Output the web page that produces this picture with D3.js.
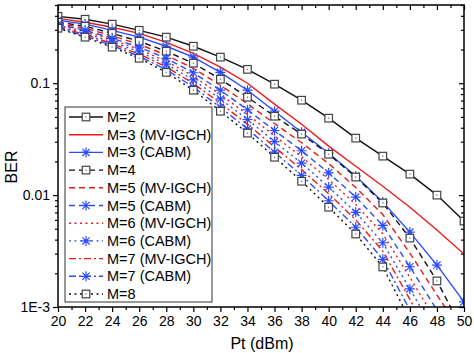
<!DOCTYPE html>
<html>
<head>
<meta charset="utf-8">
<script src="https://cdn.jsdelivr.net/npm/d3@7"></script>
<style>
    body { margin: 0; background: #fff; }
    svg { display: block; font-family: "Liberation Sans", Arial, sans-serif; }
</style>
</head>
<body>
<svg id="chart" width="474" height="353"></svg>
<script>
// transmit power (dBm)
const pt = [20, 22, 24, 26, 28, 30, 32, 34, 36, 38, 40, 42, 44, 46, 48, 50];

// BER
const berM2 = [0.396, 0.373, 0.337, 0.297, 0.258, 0.214, 0.171, 0.133, 0.098, 0.0705, 0.0487, 0.0323, 0.0223, 0.0154, 0.0100, 0.00586];
const berM3Mv = [0.38, 0.351, 0.316, 0.279, 0.232, 0.185, 0.139, 0.100, 0.065, 0.043, 0.0274, 0.0181, 0.0120, 0.0078, 0.00487, 0.00297];
const berM3Cabm = [0.365, 0.337, 0.297, 0.258, 0.214, 0.171, 0.125, 0.0866, 0.0562, 0.0365, 0.0237, 0.0148, 0.00866, 0.00467, 0.00237, 0.00111];
const berM4 = [0.351, 0.323, 0.279, 0.237, 0.193, 0.151, 0.1086, 0.075, 0.0507, 0.0351, 0.0232, 0.0145, 0.0085, 0.00413, 0.00171, 0.00059];
const berM5Mv = [0.344, 0.310, 0.265, 0.223, 0.178, 0.136, 0.0959, 0.0656, 0.0436, 0.0294, 0.0191, 0.0117, 0.0067, 0.00303, 0.00128, 0.00056];
const berM5Cabm = [0.336, 0.297, 0.252, 0.210, 0.167, 0.124, 0.0866, 0.0579, 0.0378, 0.0249, 0.0158, 0.0096, 0.00536, 0.00229, 0.00094, 0.0004];
const berM6Mv = [0.330, 0.291, 0.244, 0.201, 0.157, 0.1155, 0.0791, 0.0526, 0.0338, 0.0220, 0.0138, 0.00824, 0.00451, 0.00184, 0.00073, 0.0003];
const berM6Cabm = [0.323, 0.279, 0.234, 0.191, 0.148, 0.107, 0.0723, 0.0474, 0.0301, 0.0193, 0.0118, 0.00701, 0.00375, 0.00145, 0.00056, 0.00022];
const berM7Mv = [0.319, 0.272, 0.225, 0.182, 0.140, 0.0993, 0.0662, 0.0431, 0.0269, 0.0169, 0.0103, 0.00601, 0.00316, 0.00117, 0.00041, 0.00015];
const berM7Cabm = [0.314, 0.264, 0.217, 0.174, 0.132, 0.0925, 0.0608, 0.0391, 0.0242, 0.0150, 0.0089, 0.00516, 0.00267, 0.00094, 0.00034, 0.00012];
const berM8 = [0.310, 0.258, 0.210, 0.167, 0.125, 0.0866, 0.0562, 0.0358, 0.0218, 0.0133, 0.0078, 0.00449, 0.00228, 0.00077, 0.00015, 0.00003];

const xTicks = [20, 22, 24, 26, 28, 30, 32, 34, 36, 38, 40, 42, 44, 46, 48, 50];
const yTicks = [0.001, 0.01, 0.1];
const yTickLabels = ["1E-3", "0.01", "0.1"];

const RED = "#f01818", BLUE = "#2b4cff", BLACK = "#111";
const DASH = "6,4", DOT = "2,3.5", DASHDOT = "7,3,2,3";
const series = [
    {name: "M=2", v: berM2, color: BLACK, dash: null, mark: "square"},
    {name: "M=3 (MV-IGCH)", v: berM3Mv, color: RED, dash: null, mark: null},
    {name: "M=3 (CABM)", v: berM3Cabm, color: BLUE, dash: null, mark: "star"},
    {name: "M=4", v: berM4, color: BLACK, dash: DASH, mark: "square"},
    {name: "M=5 (MV-IGCH)", v: berM5Mv, color: RED, dash: DASH, mark: null},
    {name: "M=5 (CABM)", v: berM5Cabm, color: BLUE, dash: DASH, mark: "star"},
    {name: "M=6 (MV-IGCH)", v: berM6Mv, color: RED, dash: DOT, mark: null},
    {name: "M=6 (CABM)", v: berM6Cabm, color: BLUE, dash: DOT, mark: "star"},
    {name: "M=7 (MV-IGCH)", v: berM7Mv, color: RED, dash: DASHDOT, mark: null},
    {name: "M=7 (CABM)", v: berM7Cabm, color: BLUE, dash: DASHDOT, mark: "star"},
    {name: "M=8", v: berM8, color: BLACK, dash: DOT, mark: "square"}
];

const pLeft = 58, pRight = 464, pTop = 5, pBottom = 307;
const svg = d3.select("#chart");

const x = d3.scaleLinear().domain([20, 50]).range([pLeft, pRight]);
const y = d3.scaleLog().domain([0.001, 0.5]).range([pBottom, pTop]);

svg.append("defs").append("clipPath")
    .attr("id", "plot-clip")
    .append("rect")
    .attr("x", pLeft).attr("y", pTop)
    .attr("width", pRight - pLeft).attr("height", pBottom - pTop);

// minor tick positions
const xMinor = d3.range(21, 50, 2);
const yMinor = [];
[0.001, 0.01, 0.1].forEach(d => {
    d3.range(2, 10).forEach(k => { if (d * k <= 0.5 + 1e-9) yMinor.push(d * k); });
});

function styleAxis(g) {
    g.select(".domain").remove();
    g.selectAll("line").attr("stroke", "#000").attr("stroke-width", 1.2);
    g.selectAll("text").attr("font-size", 14).attr("fill", "#000");
}

// bottom axis (outward ticks)
svg.append("g").attr("transform", `translate(0,${pBottom})`)
    .call(d3.axisBottom(x).tickValues(xTicks).tickSize(5).tickPadding(4).tickFormat(d3.format("d")))
    .call(styleAxis);
svg.append("g").attr("transform", `translate(0,${pBottom})`)
    .call(d3.axisBottom(x).tickValues(xMinor).tickSize(3).tickFormat(""))
    .call(styleAxis);
// top axis (inward)
svg.append("g").attr("transform", `translate(0,${pTop})`)
    .call(d3.axisTop(x).tickValues(xTicks).tickSize(-5).tickFormat(""))
    .call(styleAxis);
svg.append("g").attr("transform", `translate(0,${pTop})`)
    .call(d3.axisTop(x).tickValues(xMinor).tickSize(-3).tickFormat(""))
    .call(styleAxis);
// left axis
svg.append("g").attr("transform", `translate(${pLeft},0)`)
    .call(d3.axisLeft(y).tickValues(yTicks).tickSize(5).tickPadding(3)
        .tickFormat((d, i) => yTickLabels[i]))
    .call(styleAxis);
svg.append("g").attr("transform", `translate(${pLeft},0)`)
    .call(d3.axisLeft(y).tickValues(yMinor).tickSize(3).tickFormat(""))
    .call(styleAxis);
// right axis (inward)
svg.append("g").attr("transform", `translate(${pRight},0)`)
    .call(d3.axisRight(y).tickValues(yTicks).tickSize(-5).tickFormat(""))
    .call(styleAxis);
svg.append("g").attr("transform", `translate(${pRight},0)`)
    .call(d3.axisRight(y).tickValues(yMinor).tickSize(-3).tickFormat(""))
    .call(styleAxis);

// axis titles
svg.append("text")
    .attr("x", 262).attr("y", 349)
    .attr("text-anchor", "middle").attr("font-size", 16)
    .text("Pt (dBm)");
svg.append("text")
    .attr("transform", `translate(17,167) rotate(-90)`)
    .attr("text-anchor", "middle").attr("font-size", 16)
    .text("BER");

// markers
function drawMarker(g, type, color) {
    if (type === "square") {
        g.append("rect").attr("x", -3.8).attr("y", -3.8).attr("width", 7.6).attr("height", 7.6)
            .attr("fill", "#fff").attr("stroke", "#444").attr("stroke-width", 1.2);
        g.append("rect").attr("x", -0.6).attr("y", -0.6).attr("width", 1.2).attr("height", 1.2)
            .attr("fill", "#666");
    } else if (type === "star") {
        const r = 5, r2 = 3.6;
        g.append("path")
            .attr("d", `M${-r},0L${r},0M0,${-r}L0,${r}M${-r2},${-r2}L${r2},${r2}M${-r2},${r2}L${r2},${-r2}`)
            .attr("stroke", color).attr("stroke-width", 1.2).attr("fill", "none");
    }
}

const plot = svg.append("g").attr("clip-path", "url(#plot-clip)");
const line = d3.line().x((d, i) => x(pt[i])).y(d => y(d));

series.forEach(s => {
    plot.append("path")
        .datum(s.v)
        .attr("d", line)
        .attr("fill", "none")
        .attr("stroke", s.color)
        .attr("stroke-width", 1.4)
        .attr("stroke-dasharray", s.dash);
});
series.forEach(s => {
    if (!s.mark) return;
    s.v.forEach((d, i) => {
        if (d < 0.001) return;
        const g = plot.append("g").attr("transform", `translate(${x(pt[i])},${y(d)})`);
        drawMarker(g, s.mark, s.color);
    });
});

// frame
svg.append("rect")
    .attr("x", pLeft).attr("y", pTop)
    .attr("width", pRight - pLeft).attr("height", pBottom - pTop)
    .attr("fill", "none").attr("stroke", "#000").attr("stroke-width", 1.5);

// legend
const lg = svg.append("g").attr("transform", "translate(65,107)");
lg.append("rect")
    .attr("width", 147).attr("height", 195)
    .attr("fill", "#fff").attr("stroke", "#333").attr("stroke-width", 1);
series.forEach((s, i) => {
    const cy = 10 + i * 17.7;
    lg.append("line")
        .attr("x1", 4).attr("x2", 38).attr("y1", cy).attr("y2", cy)
        .attr("stroke", s.color).attr("stroke-width", 1.4)
        .attr("stroke-dasharray", s.dash);
    if (s.mark) drawMarker(lg.append("g").attr("transform", `translate(21,${cy})`), s.mark, s.color);
    lg.append("text")
        .attr("x", 42).attr("y", cy + 5)
        .attr("font-size", 14.5)
        .text(s.name);
});
</script>
</body>
</html>
